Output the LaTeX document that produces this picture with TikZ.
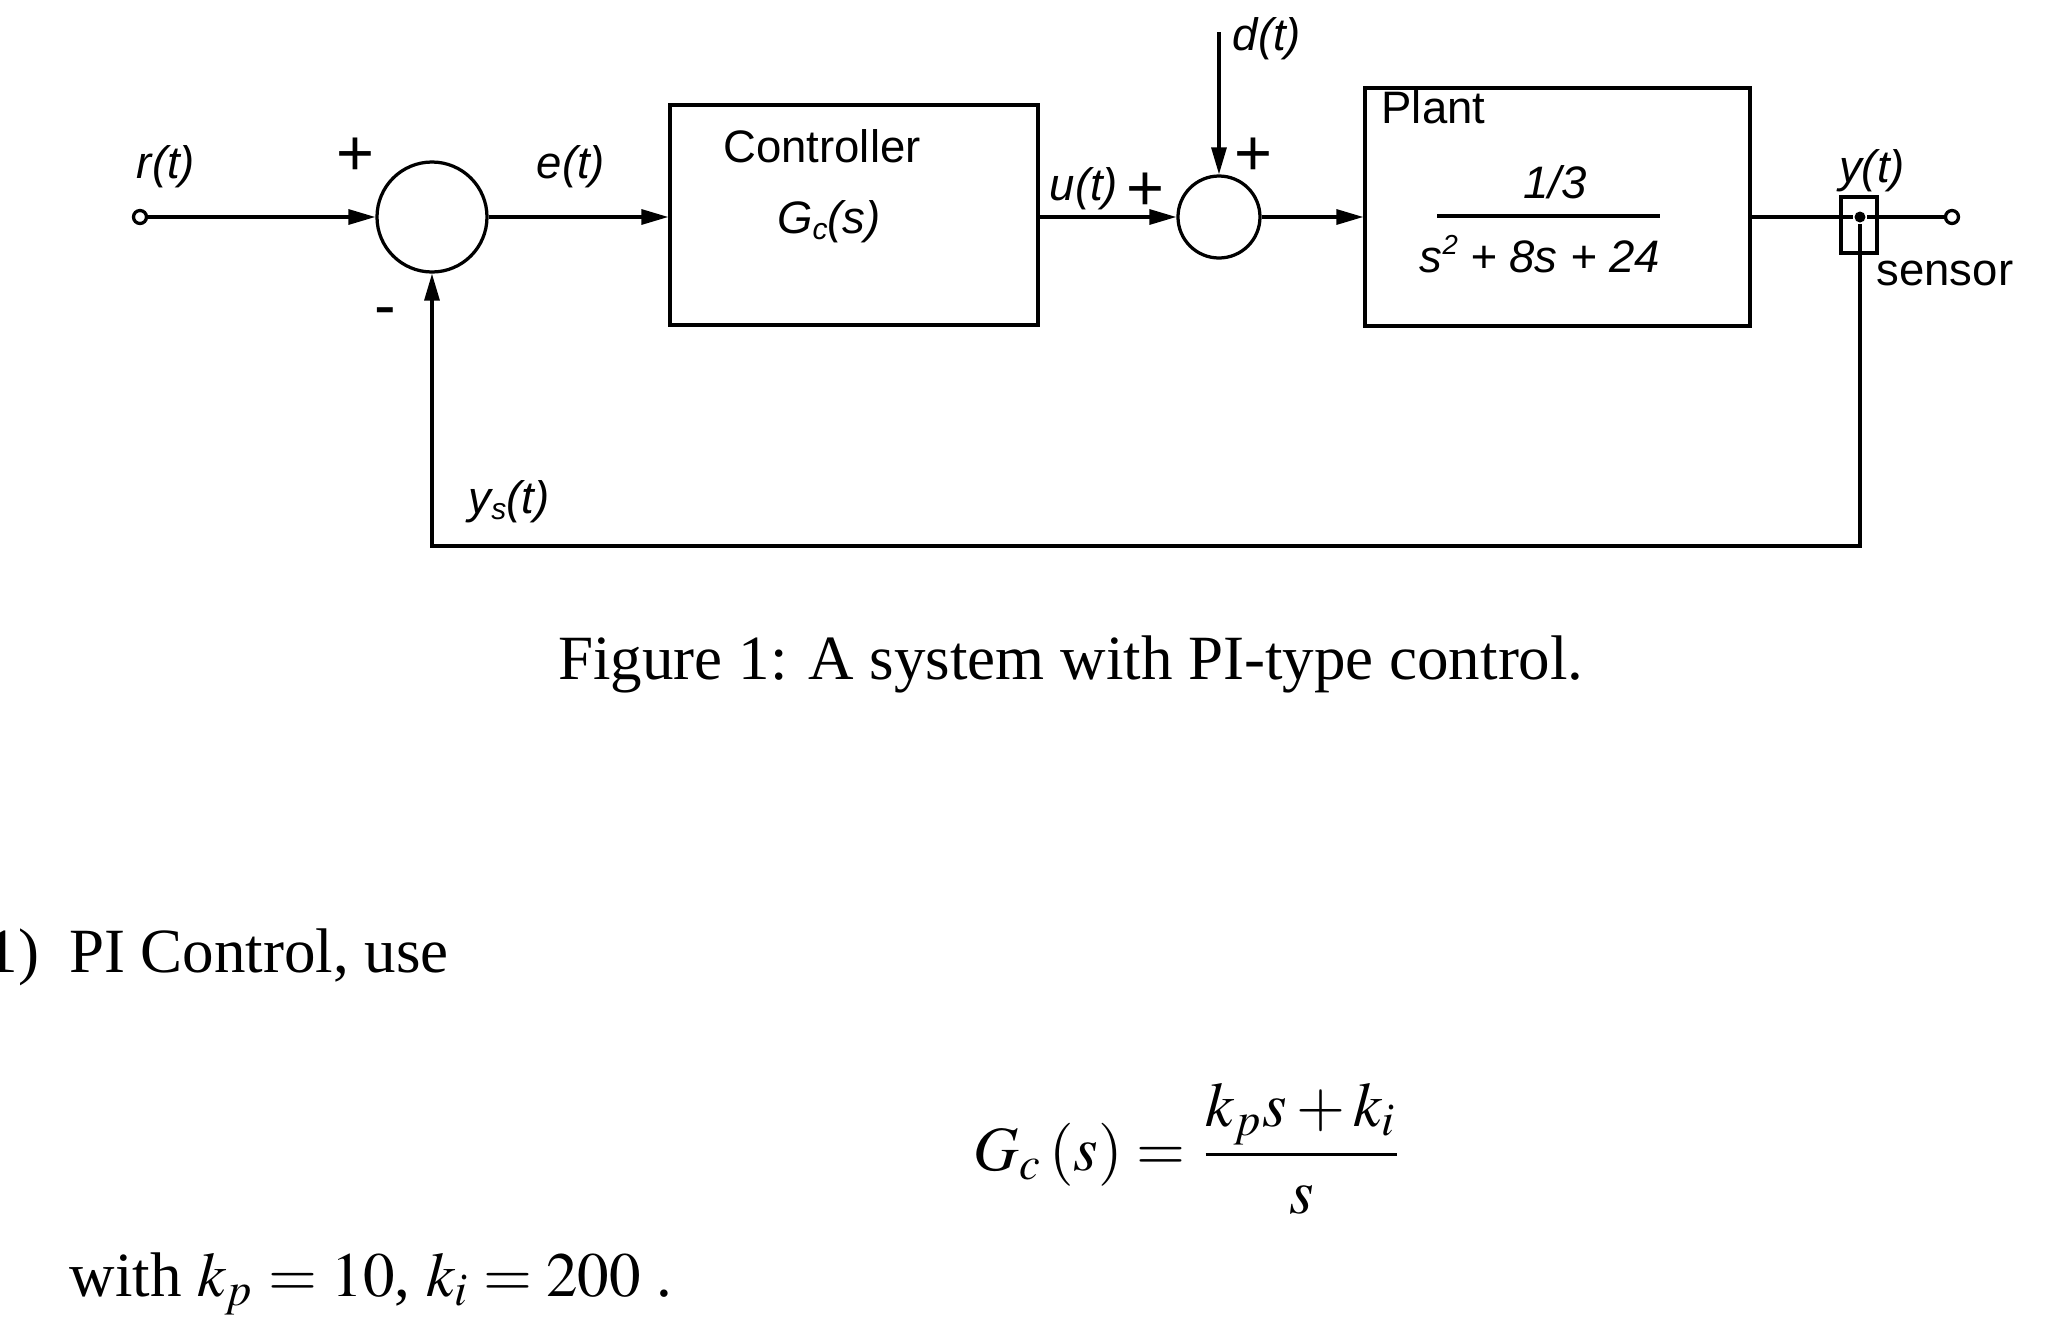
\documentclass[tikz,border=0pt]{standalone}
\usepackage{mathptmx}
\usepackage{fontspec}
\setmainfont{Liberation Serif}
\newfontfamily\arial{Liberation Sans}
\usetikzlibrary{arrows.meta}
\begin{document}
\begin{tikzpicture}[x=0.2pt,y=-0.2pt, line width=0.65pt,
  >={Triangle[length=5.4pt,width=3pt]},
  lbl/.style={inner sep=0pt, font=\arial\fontsize{9.1}{11}\selectfont},
  sig/.style={inner sep=0pt, font=\arial\itshape\fontsize{9.1}{11}\selectfont},
  sgn/.style={inner sep=0pt, font=\arial\fontsize{13}{15}\selectfont},
  blk/.style={draw, rectangle, inner sep=0pt},
  sumc/.style={draw, circle, inner sep=0pt, minimum size=22pt},
  term/.style={draw, circle, inner sep=0pt, minimum size=2.6pt, fill=white},
  txt/.style={inner sep=0pt, font=\fontsize{12.6}{15}\selectfont}]
\useasboundingbox (0,0) rectangle (2046,1321);
% blocks
\node[term] (rin) at (140,217) {};
\node[sumc] (s1) at (432,217) {};
\node[blk, minimum width=73.6pt, minimum height=44pt] (ctrl) at (854,215) {};
\node[sumc, minimum size=16.4pt] (s2) at (1219,217) {};
\node[blk, minimum width=77pt, minimum height=47.6pt] (plant) at (1557.5,207) {};
\node[blk, minimum width=7.2pt, minimum height=11.2pt] (sens) at (1859,225) {};
\node[fill, circle, inner sep=0pt, minimum size=2.2pt] (dot) at (1860,217) {};
\node[term] (yout) at (1952,217) {};
\coordinate (dtop) at (1219,32);
\coordinate (fbr) at (1860,546);
\coordinate (fbl) at (432,546);
% connectors
\draw[->] (rin) -- (s1);
\draw[->] (s1) -- (ctrl.west |- s1);
\draw[->] (ctrl.east |- s2) -- (s2);
\draw[->] (dtop) -- (s2);
\draw[->] (s2) -- (plant.west |- s2);
\draw (plant.east |- dot) -- (dot) -- (yout);
\draw[->] (dot) -- (fbr) -- (fbl) -- (s1);
% labels
\node[sig, anchor=base] (lr) at (166,178) {r(t)};
\node[sgn] (p1) at (355,157) {+};
\node[sgn] (m1) at (385,318) {-};
\node[sig, anchor=base] (le) at (571,178) {e(t)};
\node[lbl, anchor=base] (lc) at (822,162) {Controller};
\node[sig, anchor=base] (lg) at (829,233) {G\raisebox{-1.2pt}{\fontsize{6}{7}\selectfont c}(s)};
\node[sig, anchor=base] (lu) at (1084,200) {u(t)};
\node[sgn] (p2) at (1145,192) {+};
\node[sig, anchor=base] (ld) at (1267,50) {d(t)};
\node[sgn] (p3) at (1253,157) {+};
\node[lbl, anchor=base west] (lp) at (1380,123) {Plant};
\node[sig, anchor=base] (ln) at (1555,198) {1/3};
\draw (1437,216) -- (1660,216);
\node[sig, anchor=base] (ldn) at (1540,272) {s\raisebox{3.5pt}{\fontsize{5.5}{6}\selectfont 2} + 8s + 24};
\node[sig, anchor=base] (ly) at (1872,182) {y(t)};
\node[lbl, anchor=base west] (ls) at (1875,285) {sensor};
\node[sig, anchor=base] (lys) at (509,513) {y\raisebox{-1.2pt}{\fontsize{6}{7}\selectfont s}(t)};
% text below
\node[txt, anchor=base] (cap) at (1071,679) {Figure 1: A system with PI-type control.};
\node[txt, anchor=base west] (q1) at (-15,972) {1)\hspace{6pt}PI Control, use};
\node[txt, anchor=base west] (eq) at (972,1170) {$\displaystyle G_c\left(s\right) = \frac{k_p s + k_i}{s}$};
\node[txt, anchor=base west] (w) at (68,1296) {with $k_p = 10$, $k_i = 200$ .};
\end{tikzpicture}
\end{document}
